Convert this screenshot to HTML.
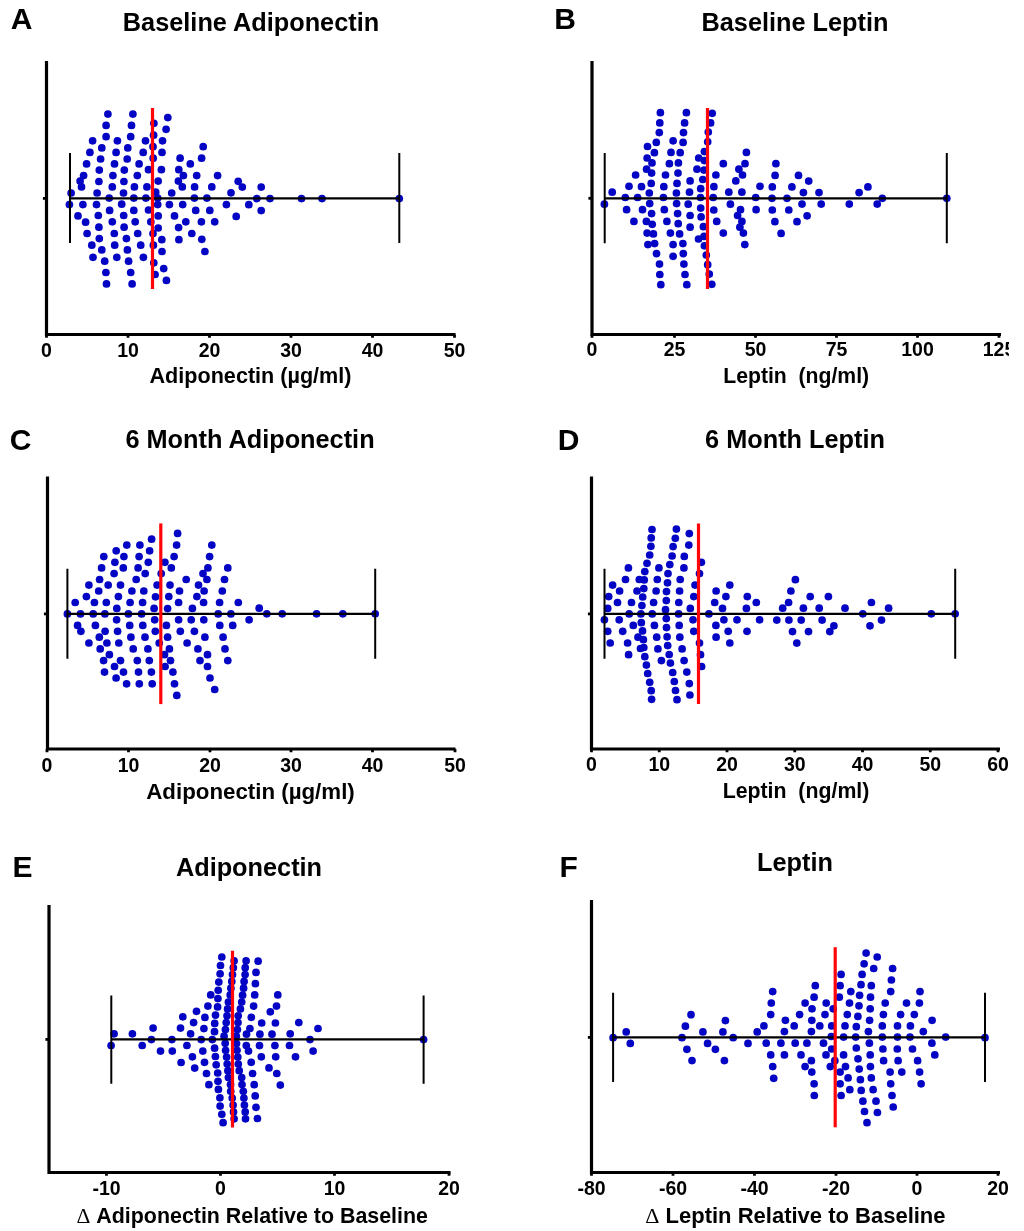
<!DOCTYPE html>
<html lang="en"><head><meta charset="utf-8"><title>Figure</title>
<style>
html,body{margin:0;padding:0;background:#fff}
svg{display:block}
text{font-family:"Liberation Sans",Arial,Helvetica,sans-serif;font-weight:bold;fill:#000}
.t{font-size:25.3px;text-anchor:middle}
.l{font-size:30px}
.k{font-size:19.5px;text-anchor:middle}
.x{font-size:21.6px;text-anchor:middle}
.dl{font-family:"Liberation Serif","DejaVu Serif",serif;font-weight:normal}
.ax{stroke:#000;stroke-width:3.2;fill:none}
.tk{stroke:#000;stroke-width:2.8;fill:none}
.rg{stroke:#000;stroke-width:2.2;fill:none}
.cp{stroke:#000;stroke-width:2;fill:none}
.rd{stroke:#ff0508;stroke-width:3.2;fill:none}
.d circle{fill:#0404c4}
</style></head>
<body>
<svg width="1024" height="1231" viewBox="0 0 1024 1231">
<defs><clipPath id="cl"><rect x="0" y="0" width="1009" height="1231"/></clipPath></defs>
<rect width="1024" height="1231" fill="#fff"/>
<g clip-path="url(#cl)">
<g id="panelA">
<text class="l" x="10.8" y="29">A</text>
<text class="t" x="251" y="31">Baseline Adiponectin</text>
<path class="ax" d="M46.5 61 V334.5 H455.5"/>
<path class="tk" d="M42.9 198.4 H46.5"/>
<path class="tk" d="M46.5 334.5 v3.2M128 334.5 v3.2M209.5 334.5 v3.2M291 334.5 v3.2M372.5 334.5 v3.2M454.5 334.5 v3.2"/>
<text class="k" x="46.5" y="356.7">0</text><text class="k" x="128" y="356.7">10</text><text class="k" x="209.5" y="356.7">20</text><text class="k" x="291" y="356.7">30</text><text class="k" x="372.5" y="356.7">40</text><text class="k" x="454.5" y="356.7">50</text>
<text class="x" x="250.5" y="382.9" style="font-size:21.6px">Adiponectin (µg/ml)</text>
<g class="d"><circle cx="107.9" cy="114.1" r="3.85"/><circle cx="106.1" cy="125.4" r="3.85"/><circle cx="106.1" cy="136.7" r="3.85"/><circle cx="101.8" cy="147.9" r="3.85"/><circle cx="100.6" cy="159" r="3.85"/><circle cx="99.3" cy="170.1" r="3.85"/><circle cx="98.9" cy="181.5" r="3.85"/><circle cx="97.1" cy="193" r="3.85"/><circle cx="92.6" cy="140.8" r="3.85"/><circle cx="89.9" cy="152.4" r="3.85"/><circle cx="86.6" cy="163.9" r="3.85"/><circle cx="83.6" cy="175.6" r="3.85"/><circle cx="80.1" cy="181.1" r="3.85"/><circle cx="81.5" cy="186.9" r="3.85"/><circle cx="71.1" cy="193" r="3.85"/><circle cx="132.9" cy="114.1" r="3.85"/><circle cx="131.5" cy="125.4" r="3.85"/><circle cx="130.7" cy="136.7" r="3.85"/><circle cx="127.8" cy="147.9" r="3.85"/><circle cx="127.2" cy="159" r="3.85"/><circle cx="124.3" cy="170.1" r="3.85"/><circle cx="123.9" cy="181.5" r="3.85"/><circle cx="123.5" cy="193" r="3.85"/><circle cx="117.4" cy="140.8" r="3.85"/><circle cx="116.1" cy="152.4" r="3.85"/><circle cx="114.5" cy="163.9" r="3.85"/><circle cx="112.9" cy="175.6" r="3.85"/><circle cx="112.3" cy="186.9" r="3.85"/><circle cx="109.2" cy="198.1" r="3.85"/><circle cx="145.5" cy="140.8" r="3.85"/><circle cx="143.2" cy="152.4" r="3.85"/><circle cx="139.1" cy="163.9" r="3.85"/><circle cx="137.3" cy="175.6" r="3.85"/><circle cx="134.4" cy="186.9" r="3.85"/><circle cx="133.8" cy="198.1" r="3.85"/><circle cx="148.5" cy="169.7" r="3.85"/><circle cx="146.9" cy="186.9" r="3.85"/><circle cx="145.9" cy="198.1" r="3.85"/><circle cx="153.9" cy="123.3" r="3.85"/><circle cx="153.6" cy="135.2" r="3.85"/><circle cx="153" cy="146.7" r="3.85"/><circle cx="153.2" cy="158.2" r="3.85"/><circle cx="167.8" cy="117.6" r="3.85"/><circle cx="166.1" cy="129.3" r="3.85"/><circle cx="162.5" cy="140.8" r="3.85"/><circle cx="162" cy="152.4" r="3.85"/><circle cx="161.4" cy="169.7" r="3.85"/><circle cx="158.2" cy="181.1" r="3.85"/><circle cx="155.7" cy="192.2" r="3.85"/><circle cx="157.7" cy="198.1" r="3.85"/><circle cx="203.2" cy="146.7" r="3.85"/><circle cx="201.6" cy="158.2" r="3.85"/><circle cx="180.1" cy="158.2" r="3.85"/><circle cx="190.3" cy="163.9" r="3.85"/><circle cx="178.8" cy="169.7" r="3.85"/><circle cx="183.4" cy="175.6" r="3.85"/><circle cx="196.7" cy="175.6" r="3.85"/><circle cx="178.4" cy="181.1" r="3.85"/><circle cx="182.3" cy="186.9" r="3.85"/><circle cx="194.6" cy="186.9" r="3.85"/><circle cx="171.7" cy="193" r="3.85"/><circle cx="194.4" cy="198.1" r="3.85"/><circle cx="217.6" cy="175.6" r="3.85"/><circle cx="211.8" cy="186.9" r="3.85"/><circle cx="206.9" cy="198.1" r="3.85"/><circle cx="69.4" cy="204.6" r="3.85"/><circle cx="82.9" cy="204.6" r="3.85"/><circle cx="96.5" cy="204.6" r="3.85"/><circle cx="121.7" cy="204.2" r="3.85"/><circle cx="157.7" cy="204.6" r="3.85"/><circle cx="169.4" cy="204.6" r="3.85"/><circle cx="182.7" cy="204.6" r="3.85"/><circle cx="226.4" cy="204.6" r="3.85"/><circle cx="109.6" cy="210.4" r="3.85"/><circle cx="133.8" cy="210.4" r="3.85"/><circle cx="148.5" cy="210" r="3.85"/><circle cx="195.7" cy="210.4" r="3.85"/><circle cx="209.8" cy="210.4" r="3.85"/><circle cx="78" cy="215.9" r="3.85"/><circle cx="98.3" cy="215.5" r="3.85"/><circle cx="123.7" cy="215.5" r="3.85"/><circle cx="158.2" cy="215.9" r="3.85"/><circle cx="174.5" cy="215.9" r="3.85"/><circle cx="85.6" cy="222.2" r="3.85"/><circle cx="112.3" cy="221.8" r="3.85"/><circle cx="135.2" cy="221.8" r="3.85"/><circle cx="150.8" cy="221.8" r="3.85"/><circle cx="185.8" cy="221.8" r="3.85"/><circle cx="201.4" cy="221.8" r="3.85"/><circle cx="214.7" cy="221.8" r="3.85"/><circle cx="98.9" cy="227.2" r="3.85"/><circle cx="124.1" cy="227.2" r="3.85"/><circle cx="158.2" cy="228" r="3.85"/><circle cx="178.6" cy="227.6" r="3.85"/><circle cx="87.1" cy="233.5" r="3.85"/><circle cx="114.3" cy="233.5" r="3.85"/><circle cx="137.7" cy="233.5" r="3.85"/><circle cx="153" cy="233.5" r="3.85"/><circle cx="191.8" cy="233.5" r="3.85"/><circle cx="99.3" cy="238.6" r="3.85"/><circle cx="126.4" cy="238.6" r="3.85"/><circle cx="161.8" cy="239.7" r="3.85"/><circle cx="178.9" cy="239.7" r="3.85"/><circle cx="201.8" cy="239.3" r="3.85"/><circle cx="91.8" cy="245.2" r="3.85"/><circle cx="114.7" cy="245.2" r="3.85"/><circle cx="140.7" cy="245.2" r="3.85"/><circle cx="153.4" cy="245.2" r="3.85"/><circle cx="101.8" cy="249.9" r="3.85"/><circle cx="127.4" cy="249.9" r="3.85"/><circle cx="162" cy="251.5" r="3.85"/><circle cx="204.9" cy="251.5" r="3.85"/><circle cx="93" cy="257.3" r="3.85"/><circle cx="116.8" cy="257.3" r="3.85"/><circle cx="143.4" cy="257.3" r="3.85"/><circle cx="104.7" cy="261.2" r="3.85"/><circle cx="128.6" cy="261.2" r="3.85"/><circle cx="153.8" cy="262.8" r="3.85"/><circle cx="163.7" cy="268.6" r="3.85"/><circle cx="105.9" cy="272.5" r="3.85"/><circle cx="130.7" cy="272.5" r="3.85"/><circle cx="155.1" cy="274.5" r="3.85"/><circle cx="106.5" cy="283.9" r="3.85"/><circle cx="132.1" cy="283.9" r="3.85"/><circle cx="166.4" cy="280.4" r="3.85"/><circle cx="238.2" cy="181.3" r="3.85"/><circle cx="242.3" cy="187.1" r="3.85"/><circle cx="231" cy="192.8" r="3.85"/><circle cx="261.2" cy="187.1" r="3.85"/><circle cx="256.8" cy="198.6" r="3.85"/><circle cx="270" cy="198.6" r="3.85"/><circle cx="248.8" cy="204.7" r="3.85"/><circle cx="261.2" cy="210.6" r="3.85"/><circle cx="236.2" cy="216.4" r="3.85"/><circle cx="301.5" cy="198.6" r="3.85"/><circle cx="322" cy="198.6" r="3.85"/><circle cx="399.3" cy="198.6" r="3.85"/></g>
<path class="rg" d="M70 198.4 H399.3"/>
<path class="cp" d="M70 153 V243M399.3 153 V243"/>
<path class="rd" d="M152.5 108 V289"/>
</g>
<g id="panelB">
<text class="l" x="554.3" y="28.6">B</text>
<text class="t" x="795" y="31">Baseline Leptin</text>
<path class="ax" d="M592 61 V334.5 H1001"/>
<path class="tk" d="M588.4 198.3 H592"/>
<path class="tk" d="M592 334.5 v3.2M674.5 334.5 v3.2M755.5 334.5 v3.2M836.5 334.5 v3.2M917.5 334.5 v3.2M999 334.5 v3.2"/>
<text class="k" x="592" y="356">0</text><text class="k" x="674.5" y="356">25</text><text class="k" x="755.5" y="356">50</text><text class="k" x="836.5" y="356">75</text><text class="k" x="917.5" y="356">100</text><text class="k" x="999" y="356">125</text>
<text class="x" x="796.2" y="382.9" style="font-size:21.2px">Leptin&#160; (ng/ml)</text>
<g class="d"><circle cx="660.4" cy="112.7" r="3.85"/><circle cx="659.8" cy="122.9" r="3.85"/><circle cx="659.3" cy="132.6" r="3.85"/><circle cx="656.3" cy="142.4" r="3.85"/><circle cx="654.4" cy="152.7" r="3.85"/><circle cx="652" cy="162.9" r="3.85"/><circle cx="651.6" cy="173.1" r="3.85"/><circle cx="651.2" cy="183.4" r="3.85"/><circle cx="649.3" cy="193" r="3.85"/><circle cx="647.5" cy="146.5" r="3.85"/><circle cx="647.1" cy="158" r="3.85"/><circle cx="646.6" cy="169.2" r="3.85"/><circle cx="635.6" cy="175" r="3.85"/><circle cx="629" cy="186.3" r="3.85"/><circle cx="641.5" cy="186.7" r="3.85"/><circle cx="612.2" cy="192.2" r="3.85"/><circle cx="625.3" cy="197.5" r="3.85"/><circle cx="637.6" cy="197.5" r="3.85"/><circle cx="663.4" cy="197.5" r="3.85"/><circle cx="700.5" cy="197.5" r="3.85"/><circle cx="713.2" cy="197.5" r="3.85"/><circle cx="755.7" cy="197.5" r="3.85"/><circle cx="686.4" cy="112.7" r="3.85"/><circle cx="684.6" cy="122.9" r="3.85"/><circle cx="683.5" cy="132.6" r="3.85"/><circle cx="683.1" cy="142.4" r="3.85"/><circle cx="680.2" cy="152.7" r="3.85"/><circle cx="678.4" cy="162.9" r="3.85"/><circle cx="678" cy="173.1" r="3.85"/><circle cx="677" cy="183.4" r="3.85"/><circle cx="676.4" cy="193" r="3.85"/><circle cx="673.1" cy="140.8" r="3.85"/><circle cx="671" cy="152.4" r="3.85"/><circle cx="669.4" cy="163.7" r="3.85"/><circle cx="665.5" cy="175" r="3.85"/><circle cx="663.8" cy="186.7" r="3.85"/><circle cx="690.1" cy="180.9" r="3.85"/><circle cx="689.5" cy="192.2" r="3.85"/><circle cx="698.7" cy="158" r="3.85"/><circle cx="697" cy="169.2" r="3.85"/><circle cx="704.4" cy="151.6" r="3.85"/><circle cx="704.4" cy="160.6" r="3.85"/><circle cx="704" cy="170.1" r="3.85"/><circle cx="702.8" cy="179.5" r="3.85"/><circle cx="700.7" cy="188.7" r="3.85"/><circle cx="712.2" cy="113.3" r="3.85"/><circle cx="710.6" cy="122.9" r="3.85"/><circle cx="708.3" cy="132" r="3.85"/><circle cx="707.7" cy="141.8" r="3.85"/><circle cx="715.9" cy="175" r="3.85"/><circle cx="713.9" cy="186.7" r="3.85"/><circle cx="723.3" cy="163.7" r="3.85"/><circle cx="728.8" cy="192.2" r="3.85"/><circle cx="746.4" cy="152.4" r="3.85"/><circle cx="745" cy="163.7" r="3.85"/><circle cx="738.9" cy="169.2" r="3.85"/><circle cx="742.5" cy="175" r="3.85"/><circle cx="735.8" cy="180.9" r="3.85"/><circle cx="741.9" cy="192.2" r="3.85"/><circle cx="760" cy="186.3" r="3.85"/><circle cx="604.4" cy="204.2" r="3.85"/><circle cx="649.7" cy="203.6" r="3.85"/><circle cx="676.6" cy="203.6" r="3.85"/><circle cx="688.2" cy="204.2" r="3.85"/><circle cx="730.4" cy="204.2" r="3.85"/><circle cx="626.6" cy="209.7" r="3.85"/><circle cx="642.5" cy="209.7" r="3.85"/><circle cx="664.3" cy="209.7" r="3.85"/><circle cx="700.7" cy="208.1" r="3.85"/><circle cx="713.8" cy="210" r="3.85"/><circle cx="740.5" cy="209.7" r="3.85"/><circle cx="756.1" cy="209.7" r="3.85"/><circle cx="651.6" cy="213.6" r="3.85"/><circle cx="677.6" cy="213.6" r="3.85"/><circle cx="690.1" cy="215.5" r="3.85"/><circle cx="701.1" cy="216.9" r="3.85"/><circle cx="737.6" cy="215.5" r="3.85"/><circle cx="633.9" cy="221.4" r="3.85"/><circle cx="646.4" cy="221.4" r="3.85"/><circle cx="666.9" cy="221.4" r="3.85"/><circle cx="716.7" cy="221.4" r="3.85"/><circle cx="741.9" cy="221.4" r="3.85"/><circle cx="652.2" cy="224.3" r="3.85"/><circle cx="678.2" cy="223.7" r="3.85"/><circle cx="690.1" cy="227.2" r="3.85"/><circle cx="703.4" cy="226.7" r="3.85"/><circle cx="739.9" cy="227.2" r="3.85"/><circle cx="647.1" cy="233.1" r="3.85"/><circle cx="653.4" cy="233.9" r="3.85"/><circle cx="670.4" cy="233.1" r="3.85"/><circle cx="679.6" cy="233.9" r="3.85"/><circle cx="723.3" cy="233.1" r="3.85"/><circle cx="743.4" cy="233.1" r="3.85"/><circle cx="698.5" cy="239" r="3.85"/><circle cx="704" cy="236.4" r="3.85"/><circle cx="647.9" cy="244.6" r="3.85"/><circle cx="654.6" cy="243.6" r="3.85"/><circle cx="673.1" cy="244.6" r="3.85"/><circle cx="682.9" cy="243.6" r="3.85"/><circle cx="704.4" cy="245.8" r="3.85"/><circle cx="744.8" cy="244.6" r="3.85"/><circle cx="656.5" cy="253.6" r="3.85"/><circle cx="673.1" cy="256.3" r="3.85"/><circle cx="683.3" cy="253.6" r="3.85"/><circle cx="706.3" cy="255" r="3.85"/><circle cx="659.5" cy="264.1" r="3.85"/><circle cx="683.9" cy="264.1" r="3.85"/><circle cx="707.7" cy="264.7" r="3.85"/><circle cx="659.8" cy="274.5" r="3.85"/><circle cx="685" cy="274.5" r="3.85"/><circle cx="709.3" cy="274.1" r="3.85"/><circle cx="660.8" cy="284.7" r="3.85"/><circle cx="686.8" cy="284.7" r="3.85"/><circle cx="711.8" cy="284.3" r="3.85"/><circle cx="775.9" cy="163.7" r="3.85"/><circle cx="775.1" cy="175.4" r="3.85"/><circle cx="772.3" cy="186.9" r="3.85"/><circle cx="772" cy="198.3" r="3.85"/><circle cx="772.3" cy="210" r="3.85"/><circle cx="774.9" cy="221.7" r="3.85"/><circle cx="781.1" cy="233.4" r="3.85"/><circle cx="798.5" cy="175.4" r="3.85"/><circle cx="808.7" cy="181.1" r="3.85"/><circle cx="791.9" cy="186.9" r="3.85"/><circle cx="803.4" cy="192.6" r="3.85"/><circle cx="819" cy="192.6" r="3.85"/><circle cx="787" cy="198.3" r="3.85"/><circle cx="802" cy="204.1" r="3.85"/><circle cx="821.2" cy="204.1" r="3.85"/><circle cx="788.8" cy="210" r="3.85"/><circle cx="807.1" cy="215.8" r="3.85"/><circle cx="797" cy="221.7" r="3.85"/><circle cx="849.3" cy="204.1" r="3.85"/><circle cx="859.1" cy="192.6" r="3.85"/><circle cx="867.9" cy="186.9" r="3.85"/><circle cx="882.3" cy="198.3" r="3.85"/><circle cx="877.2" cy="204.1" r="3.85"/><circle cx="946.8" cy="198.3" r="3.85"/></g>
<path class="rg" d="M604.7 198.3 H946.8"/>
<path class="cp" d="M604.7 153 V243.2M946.8 153 V243.2"/>
<path class="rd" d="M707.5 108 V289"/>
</g>
<g id="panelC">
<text class="l" x="9.8" y="449.5">C</text>
<text class="t" x="250" y="448">6 Month Adiponectin</text>
<path class="ax" d="M47.5 476.5 V749 H455.5"/>
<path class="tk" d="M43.9 613.9 H47.5"/>
<path class="tk" d="M47 749 v3.2M128.5 749 v3.2M210 749 v3.2M291 749 v3.2M372.5 749 v3.2M455 749 v3.2"/>
<text class="k" x="47" y="771.5">0</text><text class="k" x="128.5" y="771.5">10</text><text class="k" x="210" y="771.5">20</text><text class="k" x="291" y="771.5">30</text><text class="k" x="372.5" y="771.5">40</text><text class="k" x="455" y="771.5">50</text>
<text class="x" x="250.5" y="798.5" style="font-size:22.3px">Adiponectin (µg/ml)</text>
<g class="d"><circle cx="177.6" cy="533.4" r="3.85"/><circle cx="176.6" cy="545.1" r="3.85"/><circle cx="174.1" cy="556.6" r="3.85"/><circle cx="171.3" cy="567.9" r="3.85"/><circle cx="164.9" cy="562.3" r="3.85"/><circle cx="161.2" cy="573.6" r="3.85"/><circle cx="170" cy="585.1" r="3.85"/><circle cx="179.5" cy="591" r="3.85"/><circle cx="168.8" cy="596.6" r="3.85"/><circle cx="178.6" cy="602.5" r="3.85"/><circle cx="167.6" cy="608.6" r="3.85"/><circle cx="151.6" cy="539.2" r="3.85"/><circle cx="149.6" cy="550.8" r="3.85"/><circle cx="148.3" cy="562.3" r="3.85"/><circle cx="145.2" cy="573.6" r="3.85"/><circle cx="157.1" cy="585.1" r="3.85"/><circle cx="143.8" cy="591" r="3.85"/><circle cx="155.5" cy="596.8" r="3.85"/><circle cx="142.6" cy="602.5" r="3.85"/><circle cx="154.1" cy="608.4" r="3.85"/><circle cx="139.9" cy="545.1" r="3.85"/><circle cx="139.1" cy="556.6" r="3.85"/><circle cx="138.1" cy="567.9" r="3.85"/><circle cx="136.2" cy="579.5" r="3.85"/><circle cx="131.9" cy="591" r="3.85"/><circle cx="130.1" cy="602.5" r="3.85"/><circle cx="126.8" cy="545.1" r="3.85"/><circle cx="123.9" cy="556.6" r="3.85"/><circle cx="123.3" cy="567.9" r="3.85"/><circle cx="120.5" cy="585.1" r="3.85"/><circle cx="118.4" cy="596.6" r="3.85"/><circle cx="116.8" cy="608.4" r="3.85"/><circle cx="116.2" cy="550.8" r="3.85"/><circle cx="114.9" cy="562.3" r="3.85"/><circle cx="114.1" cy="573.6" r="3.85"/><circle cx="108.2" cy="585.1" r="3.85"/><circle cx="106.3" cy="602.5" r="3.85"/><circle cx="103.8" cy="556.6" r="3.85"/><circle cx="101.6" cy="567.9" r="3.85"/><circle cx="99.6" cy="579.5" r="3.85"/><circle cx="98.7" cy="591" r="3.85"/><circle cx="94.4" cy="602.5" r="3.85"/><circle cx="88.9" cy="585.1" r="3.85"/><circle cx="86.4" cy="596.6" r="3.85"/><circle cx="75.2" cy="602.5" r="3.85"/><circle cx="211.8" cy="545.1" r="3.85"/><circle cx="209.6" cy="556.6" r="3.85"/><circle cx="207.9" cy="567.9" r="3.85"/><circle cx="203" cy="573.6" r="3.85"/><circle cx="206.9" cy="579.5" r="3.85"/><circle cx="198.5" cy="585.1" r="3.85"/><circle cx="204.1" cy="591" r="3.85"/><circle cx="196.9" cy="596.6" r="3.85"/><circle cx="203.6" cy="602.5" r="3.85"/><circle cx="192.4" cy="608.4" r="3.85"/><circle cx="186.2" cy="579.5" r="3.85"/><circle cx="227.8" cy="567.9" r="3.85"/><circle cx="224.5" cy="579.5" r="3.85"/><circle cx="222.3" cy="591" r="3.85"/><circle cx="219.6" cy="602.5" r="3.85"/><circle cx="238.3" cy="602.5" r="3.85"/><circle cx="67.4" cy="613.9" r="3.85"/><circle cx="80.5" cy="613.9" r="3.85"/><circle cx="93.2" cy="613.9" r="3.85"/><circle cx="104.9" cy="613.9" r="3.85"/><circle cx="128.4" cy="613.9" r="3.85"/><circle cx="141.6" cy="613.9" r="3.85"/><circle cx="218.2" cy="613.9" r="3.85"/><circle cx="230.9" cy="613.9" r="3.85"/><circle cx="116.6" cy="619.8" r="3.85"/><circle cx="154.7" cy="619.8" r="3.85"/><circle cx="178.6" cy="619.8" r="3.85"/><circle cx="191.2" cy="619.8" r="3.85"/><circle cx="203.8" cy="619.8" r="3.85"/><circle cx="249.1" cy="619.8" r="3.85"/><circle cx="77.6" cy="625.4" r="3.85"/><circle cx="95.4" cy="625.4" r="3.85"/><circle cx="129.7" cy="625.4" r="3.85"/><circle cx="142.8" cy="625.4" r="3.85"/><circle cx="166.4" cy="625.4" r="3.85"/><circle cx="219.8" cy="625.4" r="3.85"/><circle cx="232.7" cy="625.4" r="3.85"/><circle cx="80.9" cy="631.3" r="3.85"/><circle cx="105.1" cy="631.3" r="3.85"/><circle cx="117.6" cy="631.3" r="3.85"/><circle cx="155.3" cy="631.3" r="3.85"/><circle cx="180.3" cy="631.3" r="3.85"/><circle cx="194.4" cy="631.3" r="3.85"/><circle cx="99.3" cy="637.2" r="3.85"/><circle cx="130.9" cy="637.2" r="3.85"/><circle cx="145" cy="637.2" r="3.85"/><circle cx="167.6" cy="637.2" r="3.85"/><circle cx="204.9" cy="637.2" r="3.85"/><circle cx="223.1" cy="637.2" r="3.85"/><circle cx="88.9" cy="643" r="3.85"/><circle cx="106.9" cy="643" r="3.85"/><circle cx="118.8" cy="643" r="3.85"/><circle cx="159.2" cy="643" r="3.85"/><circle cx="187.1" cy="643" r="3.85"/><circle cx="100.2" cy="648.9" r="3.85"/><circle cx="133.2" cy="648.9" r="3.85"/><circle cx="147.9" cy="648.9" r="3.85"/><circle cx="169.4" cy="648.9" r="3.85"/><circle cx="197.9" cy="648.9" r="3.85"/><circle cx="225" cy="648.9" r="3.85"/><circle cx="109.4" cy="654.7" r="3.85"/><circle cx="164.5" cy="654.7" r="3.85"/><circle cx="207.5" cy="654.7" r="3.85"/><circle cx="103.6" cy="660.6" r="3.85"/><circle cx="120.5" cy="660.6" r="3.85"/><circle cx="137.3" cy="660.6" r="3.85"/><circle cx="149.3" cy="660.6" r="3.85"/><circle cx="170.5" cy="660.6" r="3.85"/><circle cx="200" cy="660.6" r="3.85"/><circle cx="227.8" cy="660.6" r="3.85"/><circle cx="114.5" cy="666.5" r="3.85"/><circle cx="165.1" cy="666.5" r="3.85"/><circle cx="207.5" cy="666.5" r="3.85"/><circle cx="104.5" cy="672.1" r="3.85"/><circle cx="123.5" cy="672.1" r="3.85"/><circle cx="138.5" cy="672.1" r="3.85"/><circle cx="151.4" cy="672.1" r="3.85"/><circle cx="172.9" cy="672.1" r="3.85"/><circle cx="116.1" cy="678" r="3.85"/><circle cx="210" cy="678" r="3.85"/><circle cx="126.6" cy="683.8" r="3.85"/><circle cx="139.3" cy="683.8" r="3.85"/><circle cx="152.2" cy="683.8" r="3.85"/><circle cx="174.5" cy="683.8" r="3.85"/><circle cx="214.7" cy="689.5" r="3.85"/><circle cx="176.8" cy="695.4" r="3.85"/><circle cx="259.2" cy="608.2" r="3.85"/><circle cx="266.8" cy="613.8" r="3.85"/><circle cx="282.2" cy="613.8" r="3.85"/><circle cx="316.6" cy="613.8" r="3.85"/><circle cx="342.8" cy="613.8" r="3.85"/><circle cx="375.2" cy="613.8" r="3.85"/></g>
<path class="rg" d="M67.4 613.9 H375.2"/>
<path class="cp" d="M67.4 568.8 V658.8M375.2 568.8 V658.8"/>
<path class="rd" d="M160.8 523.4 V704.1"/>
</g>
<g id="panelD">
<text class="l" x="557.8" y="450">D</text>
<text class="t" x="795" y="448">6 Month Leptin</text>
<path class="ax" d="M591.5 476.5 V749 H1000"/>
<path class="tk" d="M587.9 613.9 H591.5"/>
<path class="tk" d="M591.5 749 v3.2M659.25 749 v3.2M727 749 v3.2M794.75 749 v3.2M862.5 749 v3.2M930.25 749 v3.2M998 749 v3.2"/>
<text class="k" x="591.5" y="770.5">0</text><text class="k" x="659.25" y="770.5">10</text><text class="k" x="727" y="770.5">20</text><text class="k" x="794.75" y="770.5">30</text><text class="k" x="862.5" y="770.5">40</text><text class="k" x="930.25" y="770.5">50</text><text class="k" x="998" y="770.5">60</text>
<text class="x" x="796" y="797.6" style="font-size:21.3px">Leptin&#160; (ng/ml)</text>
<g class="d"><circle cx="652" cy="529.5" r="3.85"/><circle cx="651.2" cy="537.9" r="3.85"/><circle cx="650.9" cy="546.3" r="3.85"/><circle cx="649.7" cy="555" r="3.85"/><circle cx="647" cy="563.3" r="3.85"/><circle cx="644.8" cy="571.6" r="3.85"/><circle cx="644.2" cy="579.9" r="3.85"/><circle cx="643.8" cy="588.6" r="3.85"/><circle cx="642.7" cy="597" r="3.85"/><circle cx="641.9" cy="605.6" r="3.85"/><circle cx="676.4" cy="529.1" r="3.85"/><circle cx="675.3" cy="538.3" r="3.85"/><circle cx="673.1" cy="546.6" r="3.85"/><circle cx="672.1" cy="556" r="3.85"/><circle cx="669.8" cy="564.6" r="3.85"/><circle cx="668" cy="573.6" r="3.85"/><circle cx="667.5" cy="582.8" r="3.85"/><circle cx="666.5" cy="591.6" r="3.85"/><circle cx="666.3" cy="600.6" r="3.85"/><circle cx="665.5" cy="609.7" r="3.85"/><circle cx="689.3" cy="533.6" r="3.85"/><circle cx="688.8" cy="545.1" r="3.85"/><circle cx="684.3" cy="556.4" r="3.85"/><circle cx="683.9" cy="567.9" r="3.85"/><circle cx="680.2" cy="579.5" r="3.85"/><circle cx="679.6" cy="591" r="3.85"/><circle cx="678.8" cy="602.5" r="3.85"/><circle cx="701.4" cy="562.3" r="3.85"/><circle cx="699.5" cy="573.6" r="3.85"/><circle cx="695" cy="585.1" r="3.85"/><circle cx="693.8" cy="596.6" r="3.85"/><circle cx="690.3" cy="608.4" r="3.85"/><circle cx="658.9" cy="567.9" r="3.85"/><circle cx="657.3" cy="579.5" r="3.85"/><circle cx="656.1" cy="591" r="3.85"/><circle cx="653.6" cy="602.5" r="3.85"/><circle cx="628.4" cy="567.9" r="3.85"/><circle cx="625.5" cy="579.5" r="3.85"/><circle cx="639.3" cy="579.5" r="3.85"/><circle cx="637" cy="591" r="3.85"/><circle cx="619.6" cy="591" r="3.85"/><circle cx="612.6" cy="585.1" r="3.85"/><circle cx="608.7" cy="596.6" r="3.85"/><circle cx="617.5" cy="602.5" r="3.85"/><circle cx="631.5" cy="602.5" r="3.85"/><circle cx="607.7" cy="608.4" r="3.85"/><circle cx="729.8" cy="585.1" r="3.85"/><circle cx="716.1" cy="591" r="3.85"/><circle cx="725.9" cy="596.6" r="3.85"/><circle cx="714.7" cy="602.5" r="3.85"/><circle cx="722.5" cy="608.4" r="3.85"/><circle cx="747.3" cy="596.6" r="3.85"/><circle cx="756.3" cy="602.5" r="3.85"/><circle cx="746.4" cy="608.4" r="3.85"/><circle cx="629.2" cy="613.9" r="3.85"/><circle cx="640.9" cy="613.9" r="3.85"/><circle cx="652.2" cy="613.9" r="3.85"/><circle cx="678.6" cy="613.9" r="3.85"/><circle cx="708.9" cy="613.9" r="3.85"/><circle cx="604.4" cy="619.8" r="3.85"/><circle cx="619.2" cy="619.8" r="3.85"/><circle cx="666.3" cy="618.6" r="3.85"/><circle cx="693" cy="619.8" r="3.85"/><circle cx="723.9" cy="619.8" r="3.85"/><circle cx="737" cy="619.8" r="3.85"/><circle cx="759.6" cy="619.8" r="3.85"/><circle cx="633.3" cy="625.4" r="3.85"/><circle cx="641.3" cy="622.7" r="3.85"/><circle cx="654.4" cy="625.4" r="3.85"/><circle cx="679.2" cy="625.4" r="3.85"/><circle cx="715.9" cy="625.4" r="3.85"/><circle cx="607.7" cy="631.3" r="3.85"/><circle cx="622.7" cy="631.3" r="3.85"/><circle cx="642.5" cy="630.9" r="3.85"/><circle cx="666.5" cy="627.6" r="3.85"/><circle cx="693.8" cy="631.3" r="3.85"/><circle cx="728.2" cy="631.3" r="3.85"/><circle cx="747" cy="631.3" r="3.85"/><circle cx="638" cy="637.2" r="3.85"/><circle cx="643.4" cy="639.7" r="3.85"/><circle cx="656.7" cy="637.2" r="3.85"/><circle cx="667.1" cy="636.8" r="3.85"/><circle cx="679.8" cy="637.2" r="3.85"/><circle cx="716.1" cy="637.2" r="3.85"/><circle cx="610.2" cy="643" r="3.85"/><circle cx="627.6" cy="643" r="3.85"/><circle cx="667.7" cy="645.6" r="3.85"/><circle cx="699.5" cy="643" r="3.85"/><circle cx="729.8" cy="643" r="3.85"/><circle cx="640.5" cy="648.5" r="3.85"/><circle cx="643.8" cy="647.5" r="3.85"/><circle cx="657.9" cy="648.9" r="3.85"/><circle cx="682.1" cy="648.9" r="3.85"/><circle cx="628.6" cy="654.7" r="3.85"/><circle cx="644.8" cy="656.7" r="3.85"/><circle cx="669.2" cy="654.5" r="3.85"/><circle cx="700.5" cy="654.7" r="3.85"/><circle cx="661.4" cy="660.6" r="3.85"/><circle cx="684.1" cy="660.6" r="3.85"/><circle cx="646.4" cy="665.1" r="3.85"/><circle cx="670.4" cy="663.1" r="3.85"/><circle cx="647.7" cy="673.5" r="3.85"/><circle cx="672.7" cy="672.5" r="3.85"/><circle cx="686.8" cy="672.1" r="3.85"/><circle cx="701.6" cy="666.5" r="3.85"/><circle cx="649.7" cy="682.3" r="3.85"/><circle cx="674.3" cy="681.5" r="3.85"/><circle cx="689.3" cy="683.6" r="3.85"/><circle cx="651.2" cy="690.7" r="3.85"/><circle cx="675.5" cy="690.5" r="3.85"/><circle cx="689.9" cy="695" r="3.85"/><circle cx="651.6" cy="699.3" r="3.85"/><circle cx="677" cy="699.7" r="3.85"/><circle cx="795.4" cy="579.7" r="3.85"/><circle cx="790.9" cy="591" r="3.85"/><circle cx="788.6" cy="602.5" r="3.85"/><circle cx="782.7" cy="608.2" r="3.85"/><circle cx="776.8" cy="620.1" r="3.85"/><circle cx="788.9" cy="620.1" r="3.85"/><circle cx="792.5" cy="631.6" r="3.85"/><circle cx="796.8" cy="643.1" r="3.85"/><circle cx="810.2" cy="596.6" r="3.85"/><circle cx="803.4" cy="608.2" r="3.85"/><circle cx="801.2" cy="620.1" r="3.85"/><circle cx="808.5" cy="631.6" r="3.85"/><circle cx="828.4" cy="596.6" r="3.85"/><circle cx="819.2" cy="608.2" r="3.85"/><circle cx="822.1" cy="620.1" r="3.85"/><circle cx="833.9" cy="625.8" r="3.85"/><circle cx="829.8" cy="631.6" r="3.85"/><circle cx="845" cy="608.2" r="3.85"/><circle cx="862.8" cy="613.8" r="3.85"/><circle cx="871.4" cy="602.5" r="3.85"/><circle cx="870" cy="625.8" r="3.85"/><circle cx="888.6" cy="608.2" r="3.85"/><circle cx="881.5" cy="620.1" r="3.85"/><circle cx="931.3" cy="613.8" r="3.85"/><circle cx="955.2" cy="613.8" r="3.85"/></g>
<path class="rg" d="M604.5 613.9 H955.2"/>
<path class="cp" d="M604.5 568.8 V658.8M955.2 568.8 V658.8"/>
<path class="rd" d="M698.5 523.4 V704.1"/>
</g>
<g id="panelE">
<text class="l" x="12.4" y="877">E</text>
<text class="t" x="249" y="876">Adiponectin</text>
<path class="ax" d="M49 905 V1172.5 H450.5"/>
<path class="tk" d="M45.4 1039.4 H49"/>
<path class="tk" d="M106.5 1172.5 v3.2M220.5 1172.5 v3.2M334.5 1172.5 v3.2M449 1172.5 v3.2"/>
<text class="k" x="106.5" y="1194.8">-10</text><text class="k" x="220.5" y="1194.8">0</text><text class="k" x="334.5" y="1194.8">10</text><text class="k" x="449" y="1194.8">20</text>
<text class="x" x="262.15" y="1222.6" style="font-size:21.4px">Adiponectin Relative to Baseline</text>
<text class="dl" x="76.5" y="1222.6" style="font-size:21.6px">Δ</text>
<g class="d"><circle cx="221.8" cy="957" r="3.85"/><circle cx="220.5" cy="965.5" r="3.85"/><circle cx="220.1" cy="973.8" r="3.85"/><circle cx="218.8" cy="982.1" r="3.85"/><circle cx="218.2" cy="990.3" r="3.85"/><circle cx="217.9" cy="998.6" r="3.85"/><circle cx="217.6" cy="1006.9" r="3.85"/><circle cx="215.5" cy="1015.1" r="3.85"/><circle cx="214.7" cy="1023.4" r="3.85"/><circle cx="214.5" cy="1031.7" r="3.85"/><circle cx="212.3" cy="1039.6" r="3.85"/><circle cx="234.1" cy="960.8" r="3.85"/><circle cx="233.3" cy="967.7" r="3.85"/><circle cx="232.5" cy="974.6" r="3.85"/><circle cx="231.8" cy="981.4" r="3.85"/><circle cx="230.9" cy="988.2" r="3.85"/><circle cx="230.2" cy="994.9" r="3.85"/><circle cx="228.4" cy="1002" r="3.85"/><circle cx="227.6" cy="1008.9" r="3.85"/><circle cx="227" cy="1015.8" r="3.85"/><circle cx="226.2" cy="1022.6" r="3.85"/><circle cx="225.4" cy="1029.5" r="3.85"/><circle cx="224.1" cy="1036.2" r="3.85"/><circle cx="246.1" cy="960.8" r="3.85"/><circle cx="245.2" cy="967.7" r="3.85"/><circle cx="245.1" cy="974.6" r="3.85"/><circle cx="244.1" cy="981.4" r="3.85"/><circle cx="243.6" cy="988.2" r="3.85"/><circle cx="242.6" cy="995.2" r="3.85"/><circle cx="241.7" cy="1002" r="3.85"/><circle cx="240.4" cy="1008.9" r="3.85"/><circle cx="238.2" cy="1015.8" r="3.85"/><circle cx="238" cy="1022.6" r="3.85"/><circle cx="237.4" cy="1029.5" r="3.85"/><circle cx="236.3" cy="1036.2" r="3.85"/><circle cx="258.1" cy="961.2" r="3.85"/><circle cx="256" cy="972.4" r="3.85"/><circle cx="255.4" cy="983.7" r="3.85"/><circle cx="254.7" cy="994.9" r="3.85"/><circle cx="253.6" cy="1006.1" r="3.85"/><circle cx="251.3" cy="1017.3" r="3.85"/><circle cx="249.9" cy="1028.5" r="3.85"/><circle cx="246.5" cy="1034.2" r="3.85"/><circle cx="210.7" cy="994.9" r="3.85"/><circle cx="207.9" cy="1006.1" r="3.85"/><circle cx="204.9" cy="1017.4" r="3.85"/><circle cx="203.9" cy="1028.6" r="3.85"/><circle cx="201.2" cy="1039.6" r="3.85"/><circle cx="277.8" cy="994.9" r="3.85"/><circle cx="276.5" cy="1006.1" r="3.85"/><circle cx="270.3" cy="1011.8" r="3.85"/><circle cx="261.7" cy="1023" r="3.85"/><circle cx="275.4" cy="1023" r="3.85"/><circle cx="259.9" cy="1034.2" r="3.85"/><circle cx="272" cy="1034.2" r="3.85"/><circle cx="202.8" cy="1051.1" r="3.85"/><circle cx="204.5" cy="1062.3" r="3.85"/><circle cx="206.5" cy="1073.5" r="3.85"/><circle cx="208.9" cy="1084.7" r="3.85"/><circle cx="214.6" cy="1048.2" r="3.85"/><circle cx="215.4" cy="1056.5" r="3.85"/><circle cx="216.2" cy="1064.8" r="3.85"/><circle cx="217.7" cy="1073" r="3.85"/><circle cx="218" cy="1081.3" r="3.85"/><circle cx="218.4" cy="1089.4" r="3.85"/><circle cx="219.9" cy="1097.8" r="3.85"/><circle cx="220.1" cy="1106.1" r="3.85"/><circle cx="221.8" cy="1114.3" r="3.85"/><circle cx="223.1" cy="1122.7" r="3.85"/><circle cx="225.2" cy="1043.3" r="3.85"/><circle cx="225.6" cy="1050.3" r="3.85"/><circle cx="226.6" cy="1057.1" r="3.85"/><circle cx="227.2" cy="1064" r="3.85"/><circle cx="227.9" cy="1070.7" r="3.85"/><circle cx="228.4" cy="1077.6" r="3.85"/><circle cx="230.5" cy="1084.5" r="3.85"/><circle cx="230.7" cy="1091.3" r="3.85"/><circle cx="232.2" cy="1098.1" r="3.85"/><circle cx="233.1" cy="1105" r="3.85"/><circle cx="233.5" cy="1111.9" r="3.85"/><circle cx="234.1" cy="1118.8" r="3.85"/><circle cx="236.5" cy="1043.5" r="3.85"/><circle cx="237" cy="1050.3" r="3.85"/><circle cx="237.8" cy="1057.1" r="3.85"/><circle cx="238.3" cy="1064" r="3.85"/><circle cx="239.2" cy="1070.7" r="3.85"/><circle cx="241.7" cy="1077.6" r="3.85"/><circle cx="242" cy="1084.5" r="3.85"/><circle cx="243.3" cy="1091.3" r="3.85"/><circle cx="243.9" cy="1098.1" r="3.85"/><circle cx="244.4" cy="1105" r="3.85"/><circle cx="245.2" cy="1111.9" r="3.85"/><circle cx="245.5" cy="1118.8" r="3.85"/><circle cx="246.3" cy="1045.6" r="3.85"/><circle cx="248.5" cy="1051.1" r="3.85"/><circle cx="251.2" cy="1062.3" r="3.85"/><circle cx="252.6" cy="1073.5" r="3.85"/><circle cx="254.2" cy="1084.7" r="3.85"/><circle cx="255.2" cy="1095.9" r="3.85"/><circle cx="256" cy="1107.3" r="3.85"/><circle cx="257.4" cy="1118.5" r="3.85"/><circle cx="259.5" cy="1045.6" r="3.85"/><circle cx="261.3" cy="1056.8" r="3.85"/><circle cx="274.9" cy="1045.6" r="3.85"/><circle cx="275.7" cy="1056.8" r="3.85"/><circle cx="269" cy="1067.9" r="3.85"/><circle cx="276.8" cy="1073.5" r="3.85"/><circle cx="114.1" cy="1033.8" r="3.85"/><circle cx="111.1" cy="1045.5" r="3.85"/><circle cx="132.4" cy="1033.8" r="3.85"/><circle cx="142.2" cy="1045.5" r="3.85"/><circle cx="153.1" cy="1028.1" r="3.85"/><circle cx="151.4" cy="1039.6" r="3.85"/><circle cx="160.5" cy="1051.1" r="3.85"/><circle cx="171.9" cy="1039.6" r="3.85"/><circle cx="172.3" cy="1051.1" r="3.85"/><circle cx="182.8" cy="1016.8" r="3.85"/><circle cx="180.5" cy="1028.1" r="3.85"/><circle cx="186.9" cy="1045.5" r="3.85"/><circle cx="181.1" cy="1062.5" r="3.85"/><circle cx="196.5" cy="1011.3" r="3.85"/><circle cx="193.6" cy="1022.6" r="3.85"/><circle cx="190.6" cy="1033.8" r="3.85"/><circle cx="192.4" cy="1056.8" r="3.85"/><circle cx="194.7" cy="1068.1" r="3.85"/><circle cx="298.8" cy="1022.6" r="3.85"/><circle cx="318" cy="1028.5" r="3.85"/><circle cx="290.2" cy="1033.8" r="3.85"/><circle cx="310" cy="1039.6" r="3.85"/><circle cx="289.5" cy="1045.5" r="3.85"/><circle cx="313.1" cy="1051.1" r="3.85"/><circle cx="295.5" cy="1056.8" r="3.85"/><circle cx="423.6" cy="1039.6" r="3.85"/><circle cx="280.3" cy="1085.1" r="3.85"/></g>
<path class="rg" d="M111.3 1039.4 H423.6"/>
<path class="cp" d="M111.3 995.5 V1083.75M423.6 995.5 V1083.75"/>
<path class="rd" d="M232.5 950.7 V1127.6"/>
</g>
<g id="panelF">
<text class="l" x="559.6" y="877.1">F</text>
<text class="t" x="795" y="871">Leptin</text>
<path class="ax" d="M591.5 900 V1172.5 H1000"/>
<path class="tk" d="M587.9 1037.4 H591.5"/>
<path class="tk" d="M591.5 1172.5 v3.2M673 1172.5 v3.2M754.5 1172.5 v3.2M836 1172.5 v3.2M917 1172.5 v3.2M998 1172.5 v3.2"/>
<text class="k" x="591.5" y="1195">-80</text><text class="k" x="673" y="1195">-60</text><text class="k" x="754.5" y="1195">-40</text><text class="k" x="836" y="1195">-20</text><text class="k" x="917" y="1195">0</text><text class="k" x="998" y="1195">20</text>
<text class="x" x="805.55" y="1223.4" style="font-size:22px">Leptin Relative to Baseline</text>
<text class="dl" x="645.2" y="1223.4" style="font-size:22px">Δ</text>
<g class="d"><circle cx="866.1" cy="953.1" r="3.85"/><circle cx="864.1" cy="963.8" r="3.85"/><circle cx="862.1" cy="974.4" r="3.85"/><circle cx="861" cy="984.7" r="3.85"/><circle cx="859.6" cy="995.3" r="3.85"/><circle cx="859" cy="1005.8" r="3.85"/><circle cx="857.9" cy="1016.4" r="3.85"/><circle cx="856.3" cy="1026.7" r="3.85"/><circle cx="855.7" cy="1037.1" r="3.85"/><circle cx="877.2" cy="957" r="3.85"/><circle cx="873.7" cy="968.5" r="3.85"/><circle cx="871.3" cy="985.7" r="3.85"/><circle cx="870.5" cy="997.2" r="3.85"/><circle cx="870.2" cy="1008.8" r="3.85"/><circle cx="869.6" cy="1020.3" r="3.85"/><circle cx="868.4" cy="1031.6" r="3.85"/><circle cx="892.6" cy="968.5" r="3.85"/><circle cx="891.4" cy="980" r="3.85"/><circle cx="890.7" cy="991.6" r="3.85"/><circle cx="885.2" cy="1003.1" r="3.85"/><circle cx="883.4" cy="1014.6" r="3.85"/><circle cx="882.3" cy="1025.9" r="3.85"/><circle cx="882.3" cy="1037.1" r="3.85"/><circle cx="841.1" cy="974.4" r="3.85"/><circle cx="840.1" cy="985.7" r="3.85"/><circle cx="839.3" cy="997.2" r="3.85"/><circle cx="850.8" cy="991.6" r="3.85"/><circle cx="849.5" cy="1003.1" r="3.85"/><circle cx="847.3" cy="1014.6" r="3.85"/><circle cx="845" cy="1025.9" r="3.85"/><circle cx="843.6" cy="1037.1" r="3.85"/><circle cx="815.3" cy="985.7" r="3.85"/><circle cx="814.1" cy="997.2" r="3.85"/><circle cx="812" cy="1008.8" r="3.85"/><circle cx="811.8" cy="1020.3" r="3.85"/><circle cx="811.4" cy="1031.6" r="3.85"/><circle cx="805.1" cy="1003.1" r="3.85"/><circle cx="799.6" cy="1014.6" r="3.85"/><circle cx="794.2" cy="1025.9" r="3.85"/><circle cx="826.2" cy="1003.1" r="3.85"/><circle cx="825" cy="1014.6" r="3.85"/><circle cx="819.8" cy="1025.9" r="3.85"/><circle cx="833.2" cy="1008.8" r="3.85"/><circle cx="831.7" cy="1025.9" r="3.85"/><circle cx="831.3" cy="1036.5" r="3.85"/><circle cx="772.7" cy="991.6" r="3.85"/><circle cx="771.3" cy="1003.1" r="3.85"/><circle cx="770.7" cy="1014.6" r="3.85"/><circle cx="763.9" cy="1025.9" r="3.85"/><circle cx="785.4" cy="1020.3" r="3.85"/><circle cx="784.4" cy="1031.6" r="3.85"/><circle cx="920" cy="991.6" r="3.85"/><circle cx="919.4" cy="1003.1" r="3.85"/><circle cx="906.5" cy="1003.1" r="3.85"/><circle cx="914.3" cy="1014.6" r="3.85"/><circle cx="900.6" cy="1014.6" r="3.85"/><circle cx="910.4" cy="1025.9" r="3.85"/><circle cx="897.5" cy="1025.9" r="3.85"/><circle cx="923.3" cy="1031.6" r="3.85"/><circle cx="932.1" cy="1020.3" r="3.85"/><circle cx="897.5" cy="1037.1" r="3.85"/><circle cx="910" cy="1037.1" r="3.85"/><circle cx="945.7" cy="1037.1" r="3.85"/><circle cx="766.2" cy="1043.2" r="3.85"/><circle cx="780.9" cy="1043.2" r="3.85"/><circle cx="795.2" cy="1043.2" r="3.85"/><circle cx="806.9" cy="1043.2" r="3.85"/><circle cx="823.5" cy="1043.2" r="3.85"/><circle cx="869.4" cy="1043.2" r="3.85"/><circle cx="931.9" cy="1043.2" r="3.85"/><circle cx="831.7" cy="1049" r="3.85"/><circle cx="856.3" cy="1048" r="3.85"/><circle cx="882.9" cy="1049" r="3.85"/><circle cx="897.3" cy="1049" r="3.85"/><circle cx="912.5" cy="1049" r="3.85"/><circle cx="770.7" cy="1054.9" r="3.85"/><circle cx="784.4" cy="1054.9" r="3.85"/><circle cx="801" cy="1054.9" r="3.85"/><circle cx="826" cy="1054.9" r="3.85"/><circle cx="843.6" cy="1054.9" r="3.85"/><circle cx="870.2" cy="1054.9" r="3.85"/><circle cx="934.8" cy="1054.9" r="3.85"/><circle cx="811.4" cy="1060.7" r="3.85"/><circle cx="834.8" cy="1060.7" r="3.85"/><circle cx="858" cy="1058.8" r="3.85"/><circle cx="883.6" cy="1060.7" r="3.85"/><circle cx="898.1" cy="1060.7" r="3.85"/><circle cx="917.6" cy="1060.7" r="3.85"/><circle cx="772.7" cy="1066.6" r="3.85"/><circle cx="805.1" cy="1066.6" r="3.85"/><circle cx="830.3" cy="1066.6" r="3.85"/><circle cx="845.5" cy="1066.6" r="3.85"/><circle cx="870.4" cy="1066.6" r="3.85"/><circle cx="859.2" cy="1069.1" r="3.85"/><circle cx="811.8" cy="1072.1" r="3.85"/><circle cx="840.1" cy="1072.1" r="3.85"/><circle cx="890.1" cy="1072.1" r="3.85"/><circle cx="901.8" cy="1072.1" r="3.85"/><circle cx="919.6" cy="1072.1" r="3.85"/><circle cx="773.7" cy="1078.3" r="3.85"/><circle cx="848.1" cy="1077.9" r="3.85"/><circle cx="860.4" cy="1079.7" r="3.85"/><circle cx="871.3" cy="1077.9" r="3.85"/><circle cx="814.1" cy="1083.8" r="3.85"/><circle cx="840.1" cy="1083.8" r="3.85"/><circle cx="890.7" cy="1083.8" r="3.85"/><circle cx="921.1" cy="1083.8" r="3.85"/><circle cx="849.8" cy="1089.7" r="3.85"/><circle cx="861.2" cy="1090.4" r="3.85"/><circle cx="873.1" cy="1089.7" r="3.85"/><circle cx="814.3" cy="1095.5" r="3.85"/><circle cx="841.1" cy="1095.5" r="3.85"/><circle cx="892" cy="1095.5" r="3.85"/><circle cx="862.9" cy="1101.2" r="3.85"/><circle cx="876" cy="1101.2" r="3.85"/><circle cx="893.2" cy="1107" r="3.85"/><circle cx="864.5" cy="1111.5" r="3.85"/><circle cx="877.4" cy="1112.5" r="3.85"/><circle cx="867" cy="1122.7" r="3.85"/><circle cx="613.1" cy="1037.7" r="3.85"/><circle cx="626.2" cy="1031.9" r="3.85"/><circle cx="630.3" cy="1043.4" r="3.85"/><circle cx="691" cy="1014.7" r="3.85"/><circle cx="685.4" cy="1026.2" r="3.85"/><circle cx="682" cy="1037.7" r="3.85"/><circle cx="686.9" cy="1049.3" r="3.85"/><circle cx="692" cy="1060.6" r="3.85"/><circle cx="702.9" cy="1031.9" r="3.85"/><circle cx="707.6" cy="1043.4" r="3.85"/><circle cx="715.4" cy="1049.3" r="3.85"/><circle cx="725.4" cy="1020.6" r="3.85"/><circle cx="722.9" cy="1031.9" r="3.85"/><circle cx="733.2" cy="1037.7" r="3.85"/><circle cx="724.4" cy="1060.6" r="3.85"/><circle cx="748" cy="1043.4" r="3.85"/><circle cx="757.2" cy="1031.9" r="3.85"/><circle cx="985" cy="1037.7" r="3.85"/></g>
<path class="rg" d="M613.1 1037.4 H985"/>
<path class="cp" d="M613.1 992.8 V1082M985 992.8 V1082"/>
<path class="rd" d="M835.2 947.2 V1127.3"/>
</g>
</g>
</svg>
</body></html>
